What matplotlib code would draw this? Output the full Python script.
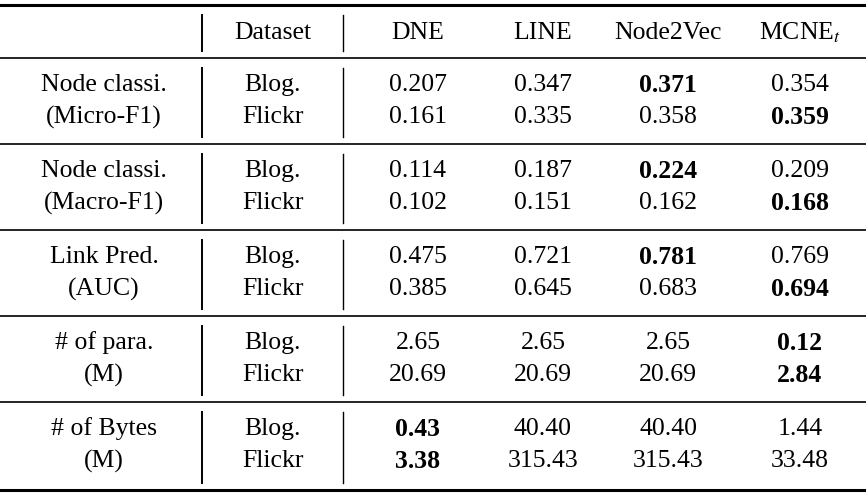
import matplotlib
matplotlib.use("Agg")
import matplotlib.pyplot as plt

headers = ["", "Dataset", "DNE", "LINE", "Node2Vec", r"MCNE$_t$"]
tasks = [("Node classi.", "(Micro-F1)"), ("Node classi.", "(Macro-F1)"),
         ("Link Pred.", "(AUC)"), ("# of para.", "(M)"), ("# of Bytes", "(M)")]
datasets = ["Blog.", "Flickr"]
values = [
    [["0.207", "0.347", "0.371", "0.354"], ["0.161", "0.335", "0.358", "0.359"]],
    [["0.114", "0.187", "0.224", "0.209"], ["0.102", "0.151", "0.162", "0.168"]],
    [["0.475", "0.721", "0.781", "0.769"], ["0.385", "0.645", "0.683", "0.694"]],
    [["2.65", "2.65", "2.65", "0.12"], ["20.69", "20.69", "20.69", "2.84"]],
    [["0.43", "40.40", "40.40", "1.44"], ["3.38", "315.43", "315.43", "33.48"]],
]
# bold cell index per row
best = [[2, 3], [2, 3], [2, 3], [3, 3], [0, 0]]

W, H = 866, 495
fig = plt.figure(figsize=(W / 100, H / 100), dpi=100)
ax = fig.add_axes([0, 0, 1, 1])
ax.set_xlim(0, W)
ax.set_ylim(H, 0)
ax.axis("off")
plt.rcParams["mathtext.fontset"] = "stix"

font = dict(family="Liberation Serif", fontsize=18.5, ha="center", va="center")
col_x = [104, 273, 418, 543, 668, 800]

ax.plot([0, W], [5, 5], color="black", lw=2.2)
ax.plot([0, W], [490, 490], color="black", lw=2.2)
rules = [58, 144, 230, 316, 402]
for y in rules:
    ax.plot([0, W], [y, y], color="black", lw=1.2)

# header
for x, h in zip(col_x, headers):
    ax.text(x, 33, h, **font)
sections = [(5, 58)] + [(rules[i], rules[i + 1] if i + 1 < len(rules) else 490)
                        for i in range(len(rules))]
for top, bot in sections:
    ax.plot([202, 202], [top + 10, bot - 7], color="black", lw=1.4)
    ax.plot([343, 343], [top + 10, bot - 7], color="black", lw=1.0)

for g, (top, bot) in enumerate(sections[1:]):
    ys = [top + 27, top + 59]
    for r in range(2):
        ax.text(col_x[0], ys[r], tasks[g][r], **font)
        ax.text(col_x[1], ys[r], datasets[r], **font)
        for c in range(4):
            weight = "bold" if best[g][r] == c else "normal"
            ax.text(col_x[c + 2], ys[r], values[g][r][c], fontweight=weight, **font)

fig.savefig("out.png", dpi=100, facecolor="white")
